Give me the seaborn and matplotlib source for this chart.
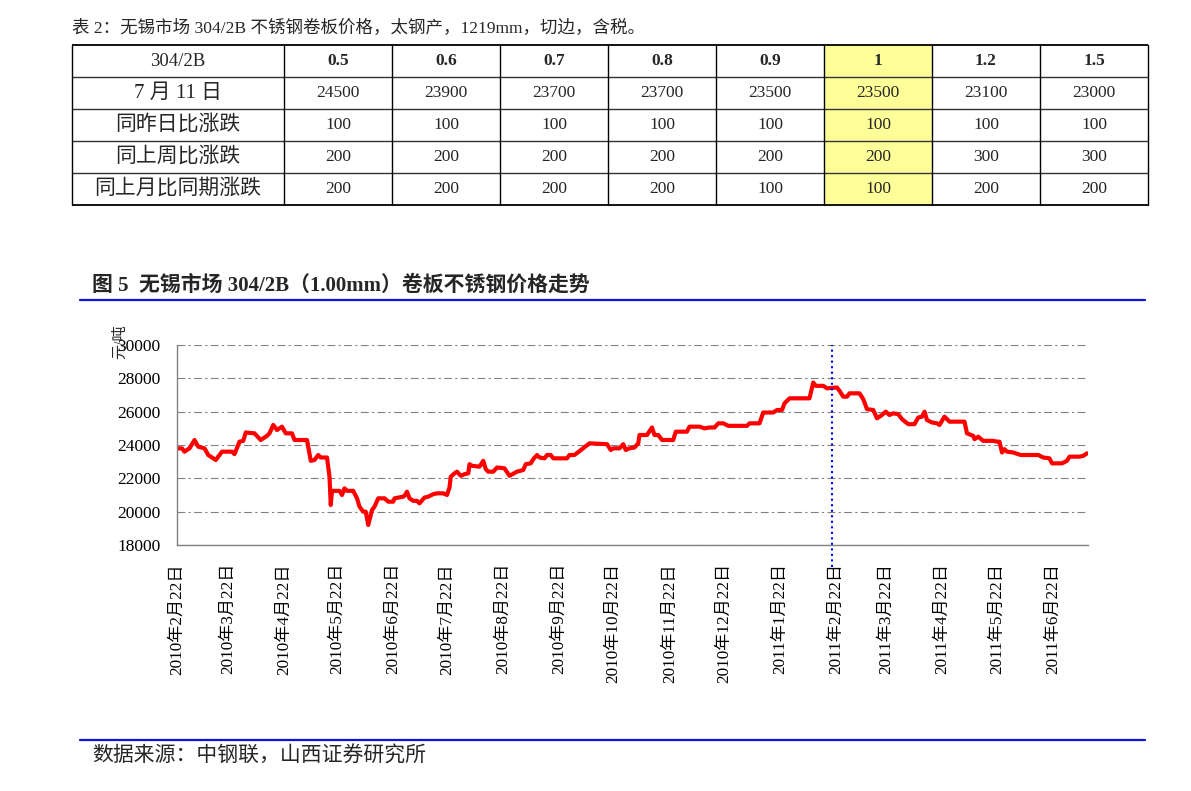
import matplotlib
matplotlib.use("Agg")
import matplotlib.pyplot as plt
import seaborn as sns
import pandas as pd

# ---------------- table data ----------------
table_title = "表 2：无锡市场 304/2B 不锈钢卷板价格，太钢产，1219mm，切边，含税。"
header_label = "304/2B"
thickness = ["0.5", "0.6", "0.7", "0.8", "0.9", "1", "1.2", "1.5"]
row_labels = ["7 月 11 日", "同昨日比涨跌", "同上周比涨跌", "同上月比同期涨跌"]
price_jul11 = [24500, 23900, 23700, 23700, 23500, 23500, 23100, 23000]
chg_day = [100, 100, 100, 100, 100, 100, 100, 100]
chg_week = [200, 200, 200, 200, 200, 200, 300, 300]
chg_month = [200, 200, 200, 200, 100, 100, 200, 200]
highlight_col = "1"

# ---------------- chart data ----------------
chart_title = "图 5  无锡市场 304/2B（1.00mm）卷板不锈钢价格走势"
y_unit = "元/吨"
source_text = "数据来源：中钢联，山西证券研究所"

day = [0, 2, 3, 5, 7, 8.5, 11, 12.5, 15.5, 18, 22, 23, 25, 26.5, 27.5, 31, 33.5, 36, 37, 38.5,
       40, 42, 43.5, 46, 47, 52, 53.5, 55, 56.5, 57.5, 60, 61, 61.5, 62, 65, 66, 67, 68, 70.5, 72,
       73, 74.5, 75.5, 76.5, 77, 78, 79, 80.5, 83, 84.5, 86.5, 87, 90.5, 91, 92, 93, 94.5, 96, 97, 99,
       100.5, 102.5, 104, 106.5, 108, 109, 109.5, 111, 112, 113.5, 115, 116.5, 117, 118, 121, 122.5, 123.5, 124.5, 126.5, 128,
       131, 133, 136, 138.5, 139.5, 141.5, 142.5, 144, 145, 147, 148, 149.5, 150.5, 156, 157, 159, 162, 165, 172, 173.5,
       174.5, 177, 178.5, 179.5, 181, 183, 184.5, 185, 188, 190, 191, 192.5, 194, 198.5, 199.5, 204, 205, 209, 211, 213,
       215, 216.5, 218.5, 220.5, 228, 229, 233, 234.5, 238.5, 240, 242, 243, 245, 253, 254.5, 255.5, 258.5, 260, 264, 265,
       266.5, 268, 269, 273, 274.5, 276, 278.5, 280, 282, 283.5, 285, 286.5, 288.5, 290, 292.5, 295, 296.5, 298, 299, 300,
       302, 304, 305, 307, 309, 315, 316, 318.5, 319, 320.5, 322.5, 326.5, 328, 329, 330, 331, 332, 334.5, 337.5, 344.5,
       346.5, 349, 350, 354, 356, 357, 361, 362.5, 364]
price = [23800, 23800, 23600, 23800, 24300, 23900, 23800, 23400, 23100, 23600, 23600, 23450, 24200, 24250, 24750, 24700, 24300, 24550, 24700, 25200,
         24900, 25100, 24700, 24700, 24300, 24300, 23050, 23100, 23400, 23250, 23250, 22100, 20400, 21250, 21250, 21000, 21400, 21250, 21250, 20800,
         20300, 20000, 20000, 19200, 19500, 20100, 20300, 20800, 20800, 20600, 20600, 20800, 20900, 20950, 21200, 20800, 20650, 20650, 20500, 20850,
         20900, 21050, 21100, 21100, 21000, 21450, 22100, 22300, 22400, 22150, 22250, 22300, 22850, 22750, 22700, 23050, 22550, 22400, 22400, 22650,
         22600, 22150, 22400, 22500, 22850, 22900, 23150, 23400, 23250, 23200, 23400, 23400, 23200, 23200, 23400, 23400, 23750, 24100, 24050, 23700,
         23800, 23800, 24050, 23700, 23800, 23850, 24100, 24600, 24600, 25050, 24600, 24600, 24300, 24300, 24800, 24800, 25100, 25100, 25000, 25050,
         25050, 25300, 25300, 25150, 25150, 25300, 25300, 25950, 25950, 26100, 26100, 26500, 26800, 26800, 27750, 27550, 27550, 27400, 27450, 27250,
         26900, 26900, 27100, 27100, 26750, 26150, 26100, 25600, 25800, 26000, 25800, 25900, 25850, 25550, 25250, 25250, 25650, 25700, 26000, 25500,
         25350, 25300, 25200, 25700, 25400, 25400, 24700, 24550, 24350, 24500, 24250, 24250, 24200, 24200, 23550, 23750, 23600, 23550, 23400, 23400,
         23250, 23200, 22900, 22900, 23050, 23300, 23300, 23350, 23500]

tick_days = [0, 20.3, 42.7, 64.1, 86.5, 108.1, 130.5, 152.9, 174.5, 197.2, 218.9, 241.3, 263.6, 283.7, 306.1, 328.1, 350.5]
tick_labels = ["2010年2月22日", "2010年3月22日", "2010年4月22日", "2010年5月22日", "2010年6月22日",
               "2010年7月22日", "2010年8月22日", "2010年9月22日", "2010年10月22日", "2010年11月22日",
               "2010年12月22日", "2011年1月22日", "2011年2月22日", "2011年3月22日", "2011年4月22日",
               "2011年5月22日", "2011年6月22日"]
marker_day = 262
y_ticks = [18000, 20000, 22000, 24000, 26000, 28000, 30000]

# ---------------- style ----------------
sns.set_theme(style="white")
CJK = ["Liberation Serif", "Noto Sans CJK SC", "DejaVu Sans"]
plt.rcParams["font.family"] = CJK

W, H = 1191, 791
fig = plt.figure(figsize=(W / 100, H / 100), dpi=100)
fig.patch.set_facecolor("white")

# ---------------- chart ----------------
ax = fig.add_axes([177 / W, 1 - 545 / H, (1088 - 177) / W, 200 / H])
df = pd.DataFrame({"day": day, "price": price})
sns.lineplot(data=df, x="day", y="price", ax=ax, color="#FF0000", linewidth=3,
             estimator=None, sort=False, solid_joinstyle="round")
ax.set_xlim(0, 364.4)
ax.set_ylim(y_ticks[0], y_ticks[-1])
ax.set_yticks(y_ticks)
ax.set_yticklabels([str(v) for v in y_ticks], fontsize=12.5, family=CJK)
ax.set_xticks(tick_days)
ax.set_xticklabels(tick_labels, rotation=90, fontsize=12.3, va="top", ha="center", family=CJK)
ax.set_xlabel("")
ax.set_ylabel("")
ax.yaxis.grid(True, linestyle=(0, (7, 3, 2, 3)), color="#808080", linewidth=0.8)
ax.xaxis.grid(False)
for s in ["top", "right"]:
    ax.spines[s].set_visible(False)
for s in ["left", "bottom"]:
    ax.spines[s].set_color("#808080")
    ax.spines[s].set_linewidth(1.0)
ax.tick_params(axis="x", direction="in", length=3, pad=13, color="#808080", labelcolor="black")
ax.tick_params(axis="y", length=0, pad=12, labelcolor="black")
ax.axvline(marker_day, ymin=-0.11, ymax=1.0, color="#0000FF", linestyle=":", linewidth=1.5, clip_on=False)
ax.set_facecolor("white")

# ---------------- layout overlay (table, titles, rules) ----------------
ov = fig.add_axes([0, 0, 1, 1], zorder=-1)
ov.set_xlim(0, W)
ov.set_ylim(H, 0)
ov.axis("off")

ov.text(72, 28, table_title, fontsize=12.6, va="center", ha="left", family=CJK)

x0, first_w, col_w = 72, 212, 108
row_tops = [45, 77, 109, 141, 173, 205]
col_edges = [x0, x0 + first_w] + [x0 + first_w + col_w * (i + 1) for i in range(len(thickness))]

hi = thickness.index(highlight_col)
ov.add_patch(plt.Rectangle((col_edges[hi + 1], row_tops[0]), col_w, row_tops[-1] - row_tops[0],
                           facecolor="#FFFF99", edgecolor="none"))
for i, yv in enumerate(row_tops):
    ov.plot([col_edges[0], col_edges[-1]], [yv, yv], color="black" if i in (0, len(row_tops) - 1) else "#333333",
            lw=1.3 if i in (0, len(row_tops) - 1) else 1.0, solid_capstyle="butt")
for xv in col_edges:
    ov.plot([xv, xv], [row_tops[0], row_tops[-1]], color="black", lw=1.0)

def cx(c):
    return (col_edges[c] + col_edges[c + 1]) / 2

def cy(r):
    return (row_tops[r] + row_tops[r + 1]) / 2

ov.text(cx(0), cy(0), header_label, fontsize=13.5, ha="center", va="center", family=CJK)
for j, t in enumerate(thickness):
    ov.text(cx(j + 1), cy(0), t, fontsize=12.5, fontweight="bold", ha="center", va="center", family=CJK)
rows = [price_jul11, chg_day, chg_week, chg_month]
for r, (lab, vals) in enumerate(zip(row_labels, rows)):
    ov.text(cx(0), cy(r + 1), lab, fontsize=15, ha="center", va="center", family=CJK)
    for j, v in enumerate(vals):
        ov.text(cx(j + 1), cy(r + 1), str(v), fontsize=12.5, ha="center", va="center", family=CJK)

ov.text(92, 285, chart_title, fontsize=15, fontweight="bold", ha="left", va="center", family=CJK)
ov.plot([80, 1145], [300, 300], color="#1010E0", lw=1.6)
ov.plot([80, 1145], [740, 740], color="#1010E0", lw=1.6)
ov.text(92, 757, source_text, fontsize=15, ha="left", va="center", family=CJK)

fig.text(120 / W, 1 - 342 / H, y_unit, rotation=90, fontsize=11, ha="center", va="center", family=CJK)

fig.savefig("out.png", dpi=100, facecolor="white")
